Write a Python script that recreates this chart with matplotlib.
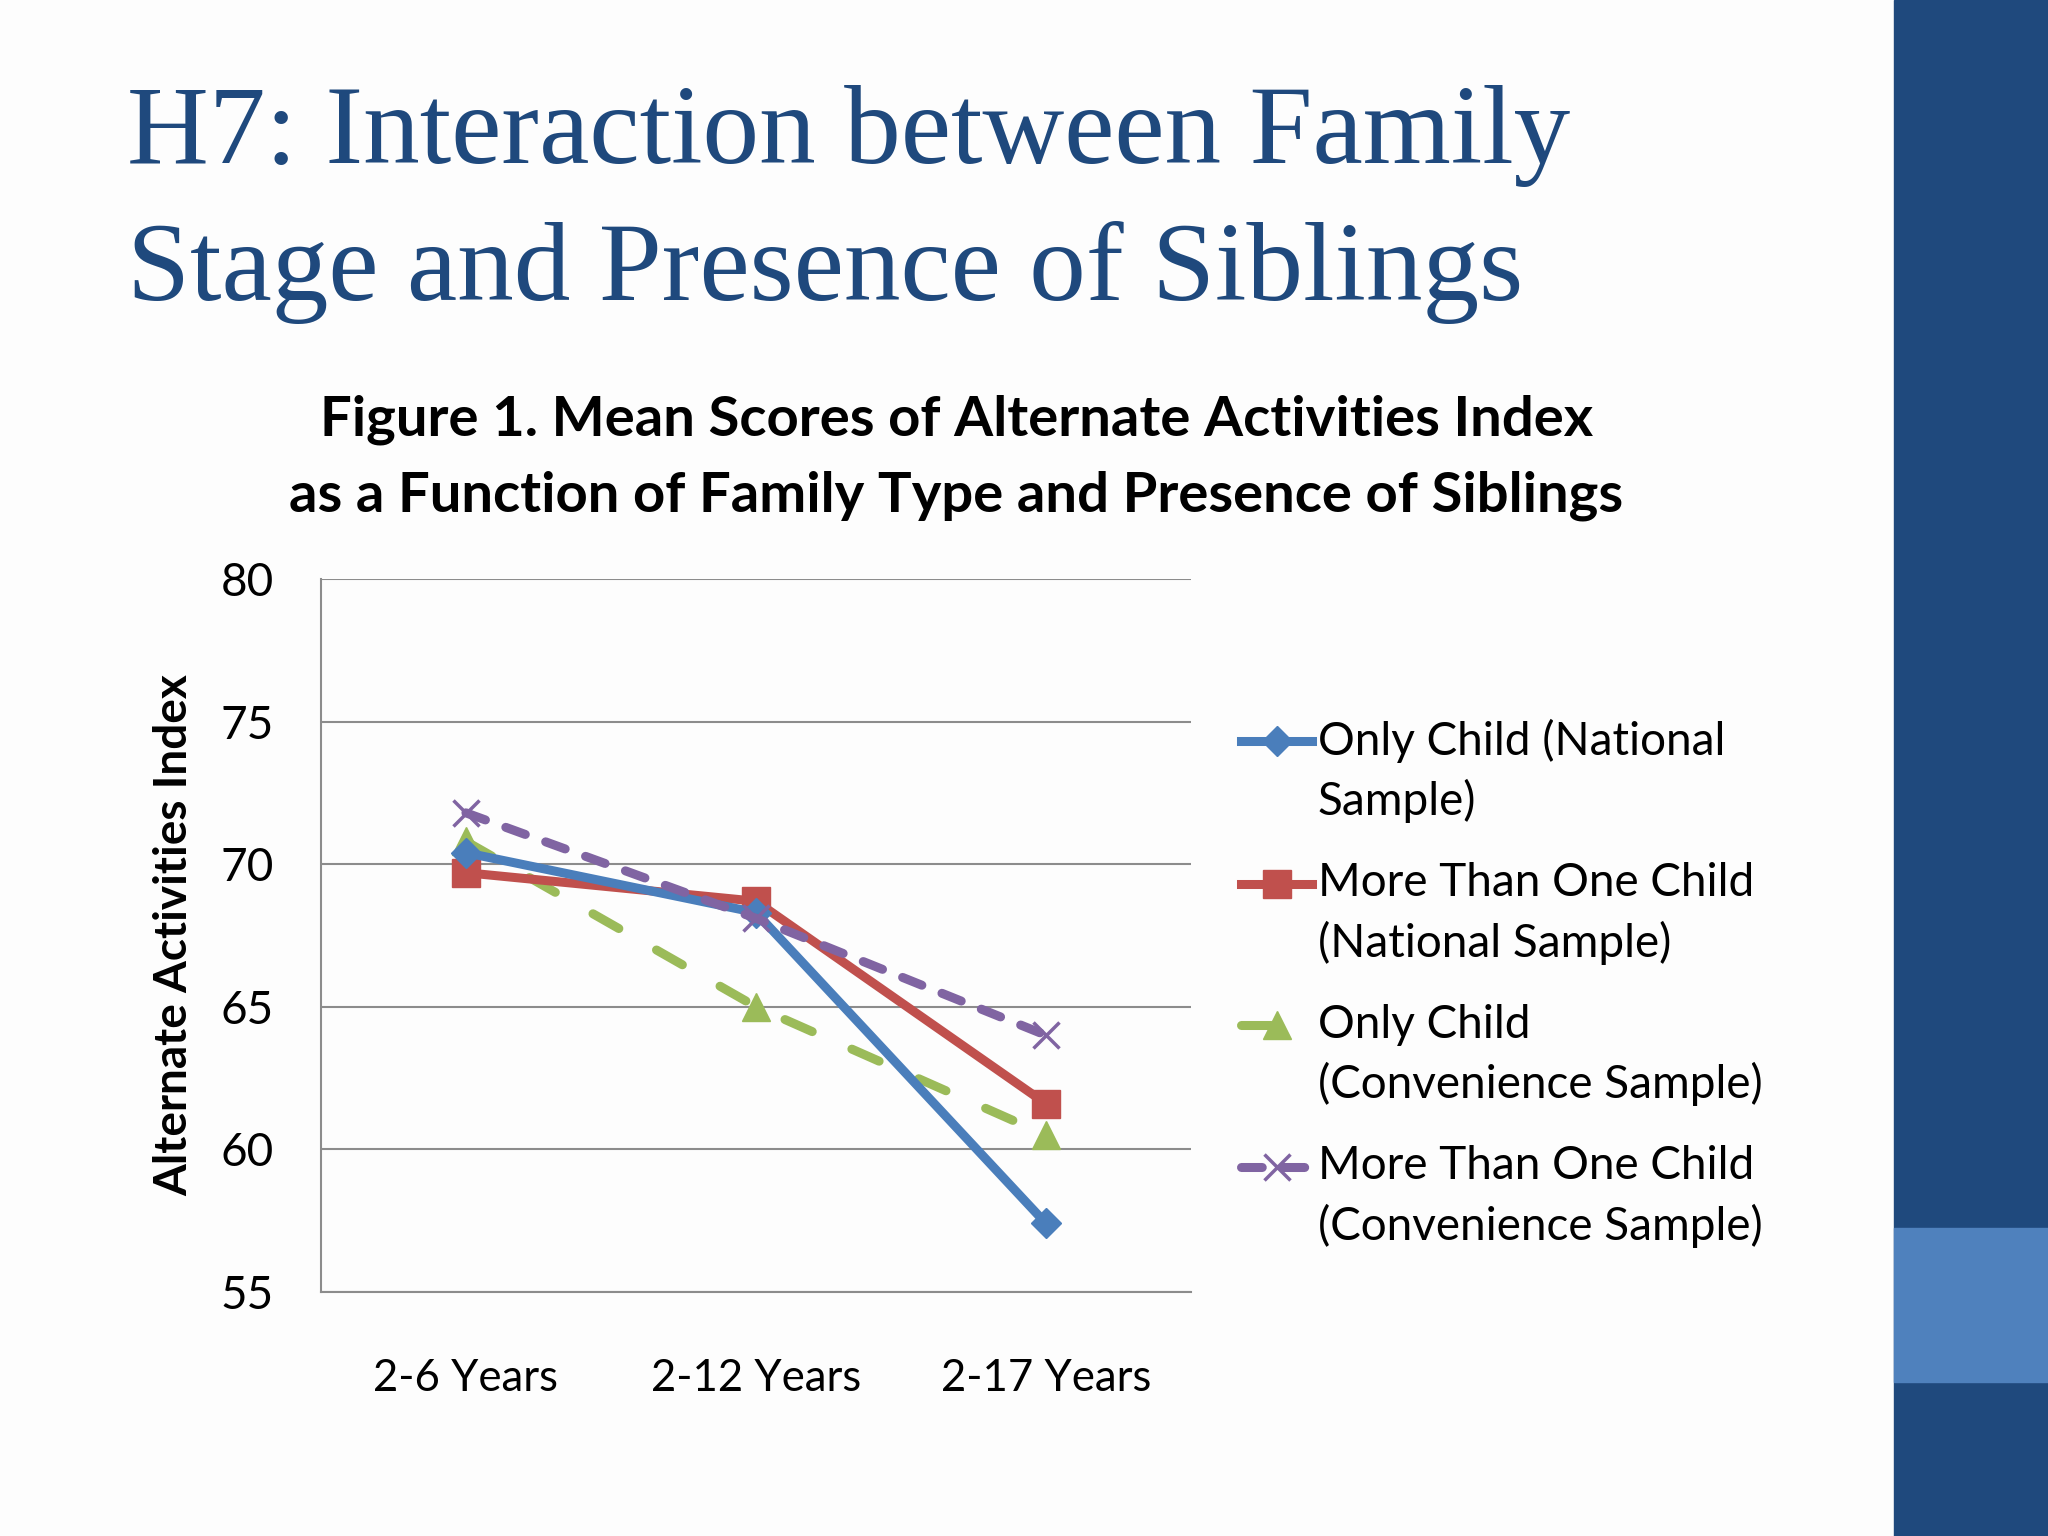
import matplotlib
matplotlib.use("Agg")
import matplotlib.pyplot as plt
from matplotlib.patches import Rectangle
from matplotlib.legend_handler import HandlerLine2D

# data
stages = ["2-6 Years", "2-12 Years", "2-17 Years"]
only_national = [70.4, 68.3, 57.4]
more_national = [69.7, 68.7, 61.6]
only_convenience = [70.8, 65.0, 60.5]
more_convenience = [71.8, 68.1, 64.0]

series_labels = ["Only Child (National\nSample)",
                 "More Than One Child\n(National Sample)",
                 "Only Child\n(Convenience Sample)",
                 "More Than One Child\n(Convenience Sample)"]

y_ticks = [55, 60, 65, 70, 75, 80]

sans = "Lato"


class FirstLineHandler(HandlerLine2D):
    # put the legend line next to the first text line, not the middle
    def create_artists(self, legend, orig_handle, xdescent, ydescent,
                       width, height, fontsize, trans):
        return super().create_artists(legend, orig_handle, xdescent,
                                      ydescent - 44, width, height, fontsize, trans)


fig = plt.figure(figsize=(20.48, 15.36), dpi=100)
fig.patch.set_facecolor("#FDFDFD")

# right side bar of the slide
fig.patches.append(Rectangle((0.9248, 0), 0.0752, 1, transform=fig.transFigure,
                             color="#1F497D", zorder=0))
fig.patches.append(Rectangle((0.9248, 0.1003), 0.0752, 0.1002, transform=fig.transFigure,
                             color="#4F81BD", zorder=1))

fig.text(0.062, 0.894, "H7: Interaction between Family", family="Liberation Serif",
         fontsize=81.5, color="#1F497D", va="baseline")
fig.text(0.062, 0.805, "Stage and Presence of Siblings", family="Liberation Serif",
         fontsize=81.5, color="#1F497D", va="baseline")

fig.text(0.467, 0.727, "Figure 1. Mean Scores of Alternate Activities Index",
         family=sans, fontsize=40.5, fontweight="bold", ha="center", va="center")
fig.text(0.467, 0.677, "as a Function of Family Type and Presence of Siblings",
         family=sans, fontsize=40.5, fontweight="bold", ha="center", va="center")

ax = fig.add_axes([0.1567, 0.159, 0.4248, 0.464])
ax.set_facecolor("none")
x = range(len(stages))

lw = 6.5
ax.plot(x, only_national, color="#4A7EBB", lw=lw, marker="D", ms=15,
        label=series_labels[0], zorder=4)
ax.plot(x, more_national, color="#C0504D", lw=lw, marker="s", ms=19.5,
        label=series_labels[1], zorder=3)
ax.plot(x, only_convenience, color="#9BBB59", lw=lw, marker="^", ms=20,
        dashes=(3.3, 4.8), dash_capstyle="round", label=series_labels[2], zorder=2)
ax.plot(x, more_convenience, color="#8064A2", lw=lw, marker="x", ms=19, mew=2.5,
        dashes=(2.3, 2.4), dash_capstyle="round", label=series_labels[3], zorder=5)

ax.set_xlim(-0.5, 2.5)
ax.set_ylim(55, 80)
ax.set_yticks(y_ticks)
ax.set_xticks(list(x))
ax.set_xticklabels(stages)
ax.yaxis.grid(True, color="#8C8C8C", lw=1.5)
ax.set_axisbelow(True)
for side in ["top", "right"]:
    ax.spines[side].set_visible(False)
for side in ["left", "bottom"]:
    ax.spines[side].set_color("#8C8C8C")
    ax.spines[side].set_linewidth(1.5)
ax.tick_params(length=0, labelsize=33, pad=34)
ax.tick_params(axis="x", labelsize=31.5, pad=48)
for lab in ax.get_xticklabels() + ax.get_yticklabels():
    lab.set_family(sans)

ax.set_ylabel("Alternate Activities Index", family=sans, fontsize=33,
              fontweight="bold", labelpad=18)

handles, labels = ax.get_legend_handles_labels()
leg = fig.legend(handles, labels, loc="upper left", bbox_to_anchor=(0.597, 0.544),
                 frameon=False, prop={"family": sans, "size": 33}, handlelength=1.55,
                 handletextpad=0.12, labelspacing=0.85, borderaxespad=0,
                 handler_map={h: FirstLineHandler() for h in handles})
for t in leg.get_texts():
    t.set_linespacing(1.45)

fig.savefig("out.png", dpi=100, facecolor=fig.get_facecolor())
